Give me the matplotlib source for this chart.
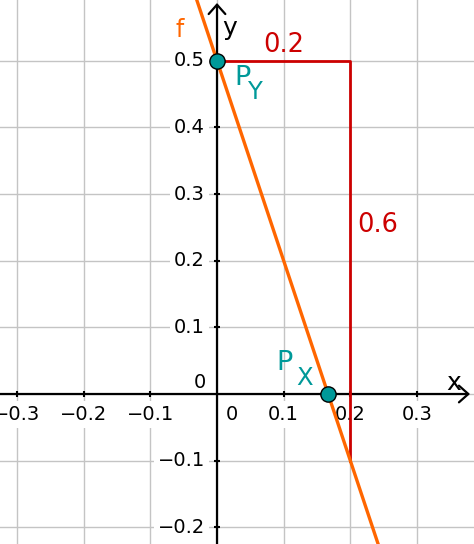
import numpy as np
import matplotlib
matplotlib.use('Agg')
import matplotlib.pyplot as plt

plt.rcParams['font.family'] = ['DejaVu Sans']

# =============================================================================
# Data
# =============================================================================
x_ticks = [-0.3, -0.2, -0.1, 0.1, 0.2, 0.3]
y_ticks = [-0.2, -0.1, 0.1, 0.2, 0.3, 0.4, 0.5]
x_labels = ['\u22120.3', '\u22120.2', '\u22120.1', '0.1', '0.2', '0.3']
y_labels = ['\u22120.2', '\u22120.1', '0.1', '0.2', '0.3', '0.4', '0.5']

# line f (endpoints beyond the view)
f_x = [-0.05, 0.25]
f_y = [0.65, -0.25]

# slope triangle
step_x = [0.0, 0.2, 0.2]
step_y = [0.5, 0.5, -0.1]

# points
py_pt = (0.0, 0.5)
px_pt = (0.1667, 0.0)

xlim = (-0.3255, 0.3855)
ylim = (-0.225, 0.591)

orange = '#ff6600'
red = '#cc0000'
teal = '#009999'

fig = plt.figure(figsize=(4.74, 5.44), dpi=100)
ax = fig.add_axes([0, 0, 1, 1])
ax.set_xlim(*xlim)
ax.set_ylim(*ylim)
ax.axis('off')

# grid
for gx in np.arange(-0.3, 0.35, 0.1):
    ax.axvline(gx, color='#c4c4c4', lw=1, zorder=0)
for gy in np.arange(-0.2, 0.55, 0.1):
    ax.axhline(gy, color='#c4c4c4', lw=1, zorder=0)

# tick labels with white boxes over the grid
box = dict(facecolor='white', edgecolor='none', pad=3)
for v, s in zip(x_ticks, x_labels):
    ax.text(v, -0.0308, s, ha='center', va='center', fontsize=14, bbox=box, zorder=2)
for v, s in zip(y_ticks, y_labels):
    ax.text(-0.018, v, s, ha='right', va='center', fontsize=14, bbox=box, zorder=2)
ax.text(0.0225, -0.0308, '0', ha='center', va='center', fontsize=14, bbox=box, zorder=2)
ax.text(-0.0255, 0.0165, '0', ha='center', va='center', fontsize=14, zorder=2)

# axes with arrows
arr = dict(arrowstyle='->,head_length=0.45,head_width=0.4', lw=1.6, color='black',
           mutation_scale=15, shrinkA=0, shrinkB=0)
ax.annotate('', xy=(0.3795, 0), xytext=(xlim[0], 0), arrowprops=arr, zorder=3)
ax.annotate('', xy=(0, 0.5865), xytext=(0, ylim[0]), arrowprops=arr, zorder=3)
ax.plot(x_ticks, [0]*len(x_ticks), '|', color='black', ms=4, mew=1.5, zorder=3)
ax.plot([0]*len(y_ticks), y_ticks, '_', color='black', ms=4, mew=1.5, zorder=3)
ax.text(0.3555, 0.0165, 'x', ha='center', va='center', fontsize=18, zorder=3)
ax.text(0.0195, 0.5385, 'y', ha='center', va='baseline', fontsize=18, zorder=3)

# slope triangle
ax.plot(step_x, step_y, color=red, lw=2, zorder=4)
ax.text(0.1, 0.5235, '0.2', color=red, ha='center', va='center', fontsize=18.5, zorder=4)
ax.text(0.211, 0.2535, '0.6', color=red, ha='left', va='center', fontsize=18.5, zorder=4)

# line f
ax.plot(f_x, f_y, color=orange, lw=2.4, zorder=5)
ax.text(-0.0563, 0.5355, 'f', color=orange, ha='center', va='baseline', fontsize=17, zorder=5)

# points
ax.plot(*py_pt, 'o', ms=11, mfc=teal, mec='black', mew=1.0, zorder=6)
ax.plot(*px_pt, 'o', ms=11, mfc=teal, mec='black', mew=1.0, zorder=6)
ax.text(0.026, 0.4735, 'P', color=teal, ha='left', va='center', fontsize=19.5, zorder=6)
ax.text(0.047, 0.4535, 'Y', color=teal, ha='left', va='center', fontsize=17.5, zorder=6)
ax.text(0.089, 0.0465, 'P', color=teal, ha='left', va='center', fontsize=19.5, zorder=6)
ax.text(0.119, 0.0233, 'X', color=teal, ha='left', va='center', fontsize=17.5, zorder=6)

plt.savefig('out.png', dpi=100)
